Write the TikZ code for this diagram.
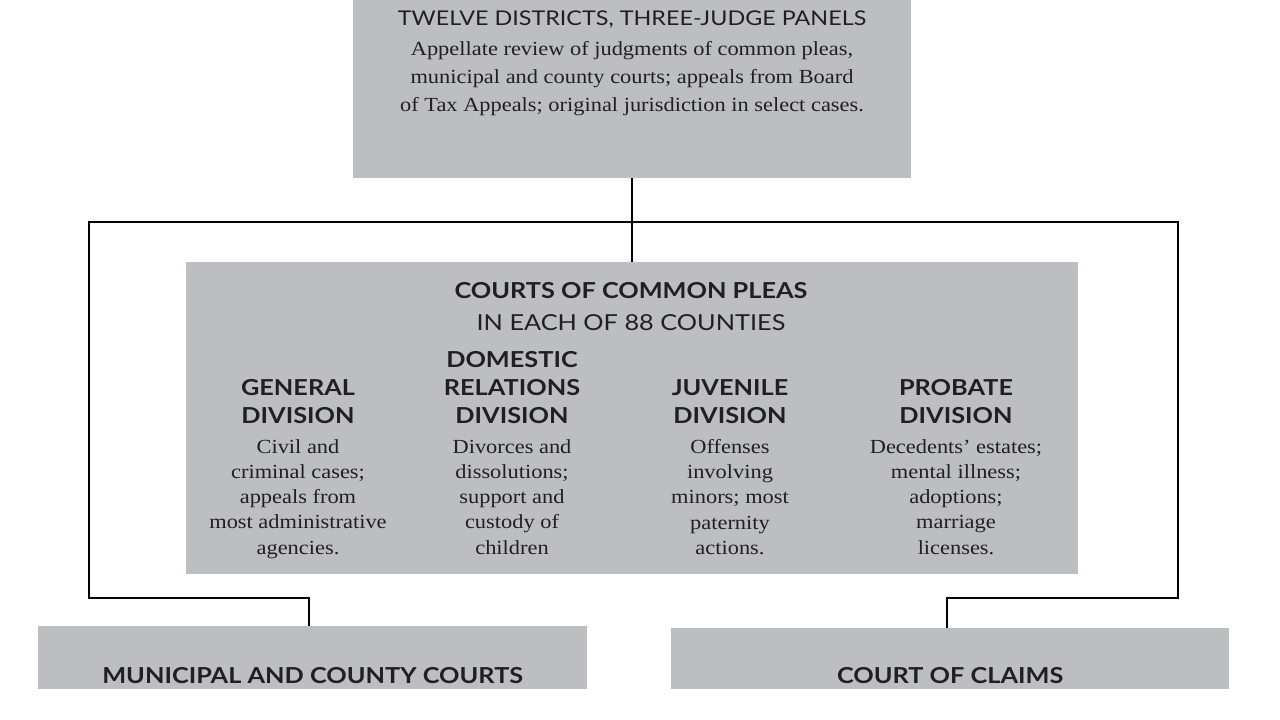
\documentclass[tikz,border=0pt]{standalone}
\usepackage{fontspec}
\setmainfont[FakeStretch=1.12]{Liberation Serif}
\newfontfamily\headfont[FakeStretch=1.15]{Lato}
\usepackage{xcolor}
\definecolor{panel}{RGB}{189,190,193}
\definecolor{ink}{RGB}{35,31,32}

\begin{document}
\begin{tikzpicture}[x=1pt,y=-1pt,
  box/.style={fill=panel,draw=none,inner sep=0pt,anchor=north west},
  link/.style={line width=2.4pt,black},
  title/.style={font=\headfont\fontsize{22}{28}\selectfont,text=ink,inner sep=0pt,anchor=base},
  head/.style={font=\headfont\bfseries\fontsize{22}{28}\selectfont,text=ink,align=center,inner sep=0pt,anchor=south},
  body/.style={font=\fontsize{20}{25.3}\selectfont,text=ink,align=center,inner sep=0pt,anchor=north}]
\useasboundingbox (0,0) rectangle (1280,720);

% boxes
\node[box,minimum width=558pt,minimum height=188pt] (appeals) at (353,-10) {};
\node[box,minimum width=892pt,minimum height=312pt] (pleas) at (186,262) {};
\node[box,minimum width=549pt,minimum height=63pt] (muni) at (38,626) {};
\node[box,minimum width=558pt,minimum height=61pt] (claims) at (671,628) {};

% court of appeals
\node[title,font=\headfont\fontsize{20.3}{28}\selectfont] (appealstitle) at (632,25.5) {TWELVE DISTRICTS, THREE-JUDGE PANELS};
\node[body,font=\fontsize{20}{28}\selectfont] (appealstext) at (632,41) {Appellate review of judgments of common pleas,\\ municipal and county courts; appeals from Board\\ of Tax Appeals; original jurisdiction in select cases.};

% common pleas
\node[title,font=\headfont\bfseries\fontsize{22}{28}\selectfont] (pleastitle) at (631,298.5) {COURTS OF COMMON PLEAS};
\node[title] (pleassub) at (631,330.5) {IN EACH OF 88 COUNTIES};

\node[head] (general) at (298,424) {GENERAL\\ DIVISION};
\node[head] (domestic) at (512,424) {DOMESTIC\\ RELATIONS\\ DIVISION};
\node[head] (juvenile) at (730,424) {JUVENILE\\ DIVISION};
\node[head] (probate) at (956,424) {PROBATE\\ DIVISION};

\node[body] (generaltext) at (298,439) {Civil and\\ criminal cases;\\ appeals from\\ most administrative\\ agencies.};
\node[body] (domestictext) at (512,439) {Divorces and\\ dissolutions;\\ support and\\ custody of\\ children};
\node[body] (juveniletext) at (730,439) {Offenses\\ involving\\ minors; most\\ paternity\\ actions.};
\node[body] (probatetext) at (956,439) {Decedents’ estates;\\ mental illness;\\ adoptions;\\ marriage\\ licenses.};

% lower courts
\node[title,font=\headfont\bfseries\fontsize{22}{28}\selectfont] (munititle) at (muni.center |- 0,683) {MUNICIPAL AND COUNTY COURTS};
\node[title,font=\headfont\bfseries\fontsize{22}{28}\selectfont] (claimstitle) at (claims.center |- 0,683) {COURT OF CLAIMS};

% connectors
\coordinate (lt) at (89,222);
\coordinate (rt) at (1178,222);
\coordinate (lb) at (89,598);
\coordinate (rb) at (1178,598);
\draw[link] (appeals.south) -- (pleas.north);
\draw[link] ([xshift=-4pt]muni.north) |- (lb) -- (lt) -- (rt) -- (rb) -| ([xshift=-3pt]claims.north);
\end{tikzpicture}
\end{document}
